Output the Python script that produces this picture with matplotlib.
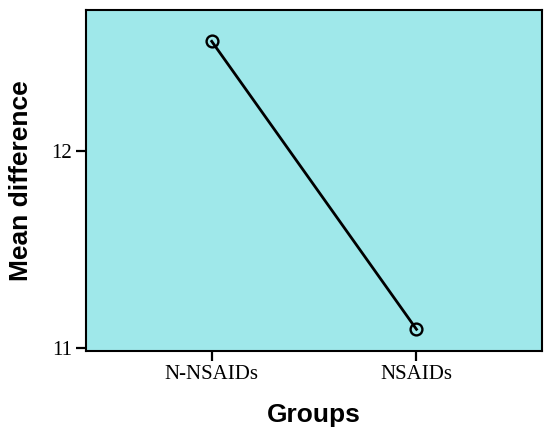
import matplotlib
matplotlib.use("Agg")
import matplotlib.pyplot as plt

groups = ["N-NSAIDs", "NSAIDs"]
mean_diff = [12.557, 11.095]
yticks = [11, 12]

fig = plt.figure(figsize=(5.5, 4.37), dpi=100)
ax = fig.add_axes([86/550, 1-351/437, (542-86)/550, (351-10)/437])
ax.set_facecolor("#9fe8ea")
x = list(range(len(groups)))
ax.plot(x, mean_diff, color="black", lw=2.0, marker="o", markersize=8.5,
        markerfacecolor="none", markeredgecolor="black", markeredgewidth=1.7)
ax.set_xlim(-0.614, 1.613)
ax.set_ylim(10.985, 12.716)
ax.set_xticks(x)
ax.set_xticklabels(groups, fontfamily="Liberation Serif", fontsize=15)
ax.set_yticks(yticks)
ax.set_yticklabels([str(t) for t in yticks], fontfamily="Liberation Serif", fontsize=15)
ax.tick_params(axis="both", direction="out", length=7, width=1.6, pad=3)
for s in ax.spines.values():
    s.set_linewidth(1.5)
ax.set_xlabel("Groups", fontfamily="Liberation Sans", fontweight="bold", fontsize=19, labelpad=14)
ax.set_ylabel("Mean difference", fontfamily="Liberation Sans", fontweight="bold", fontsize=19, labelpad=13)
fig.savefig("out.png", dpi=100)
